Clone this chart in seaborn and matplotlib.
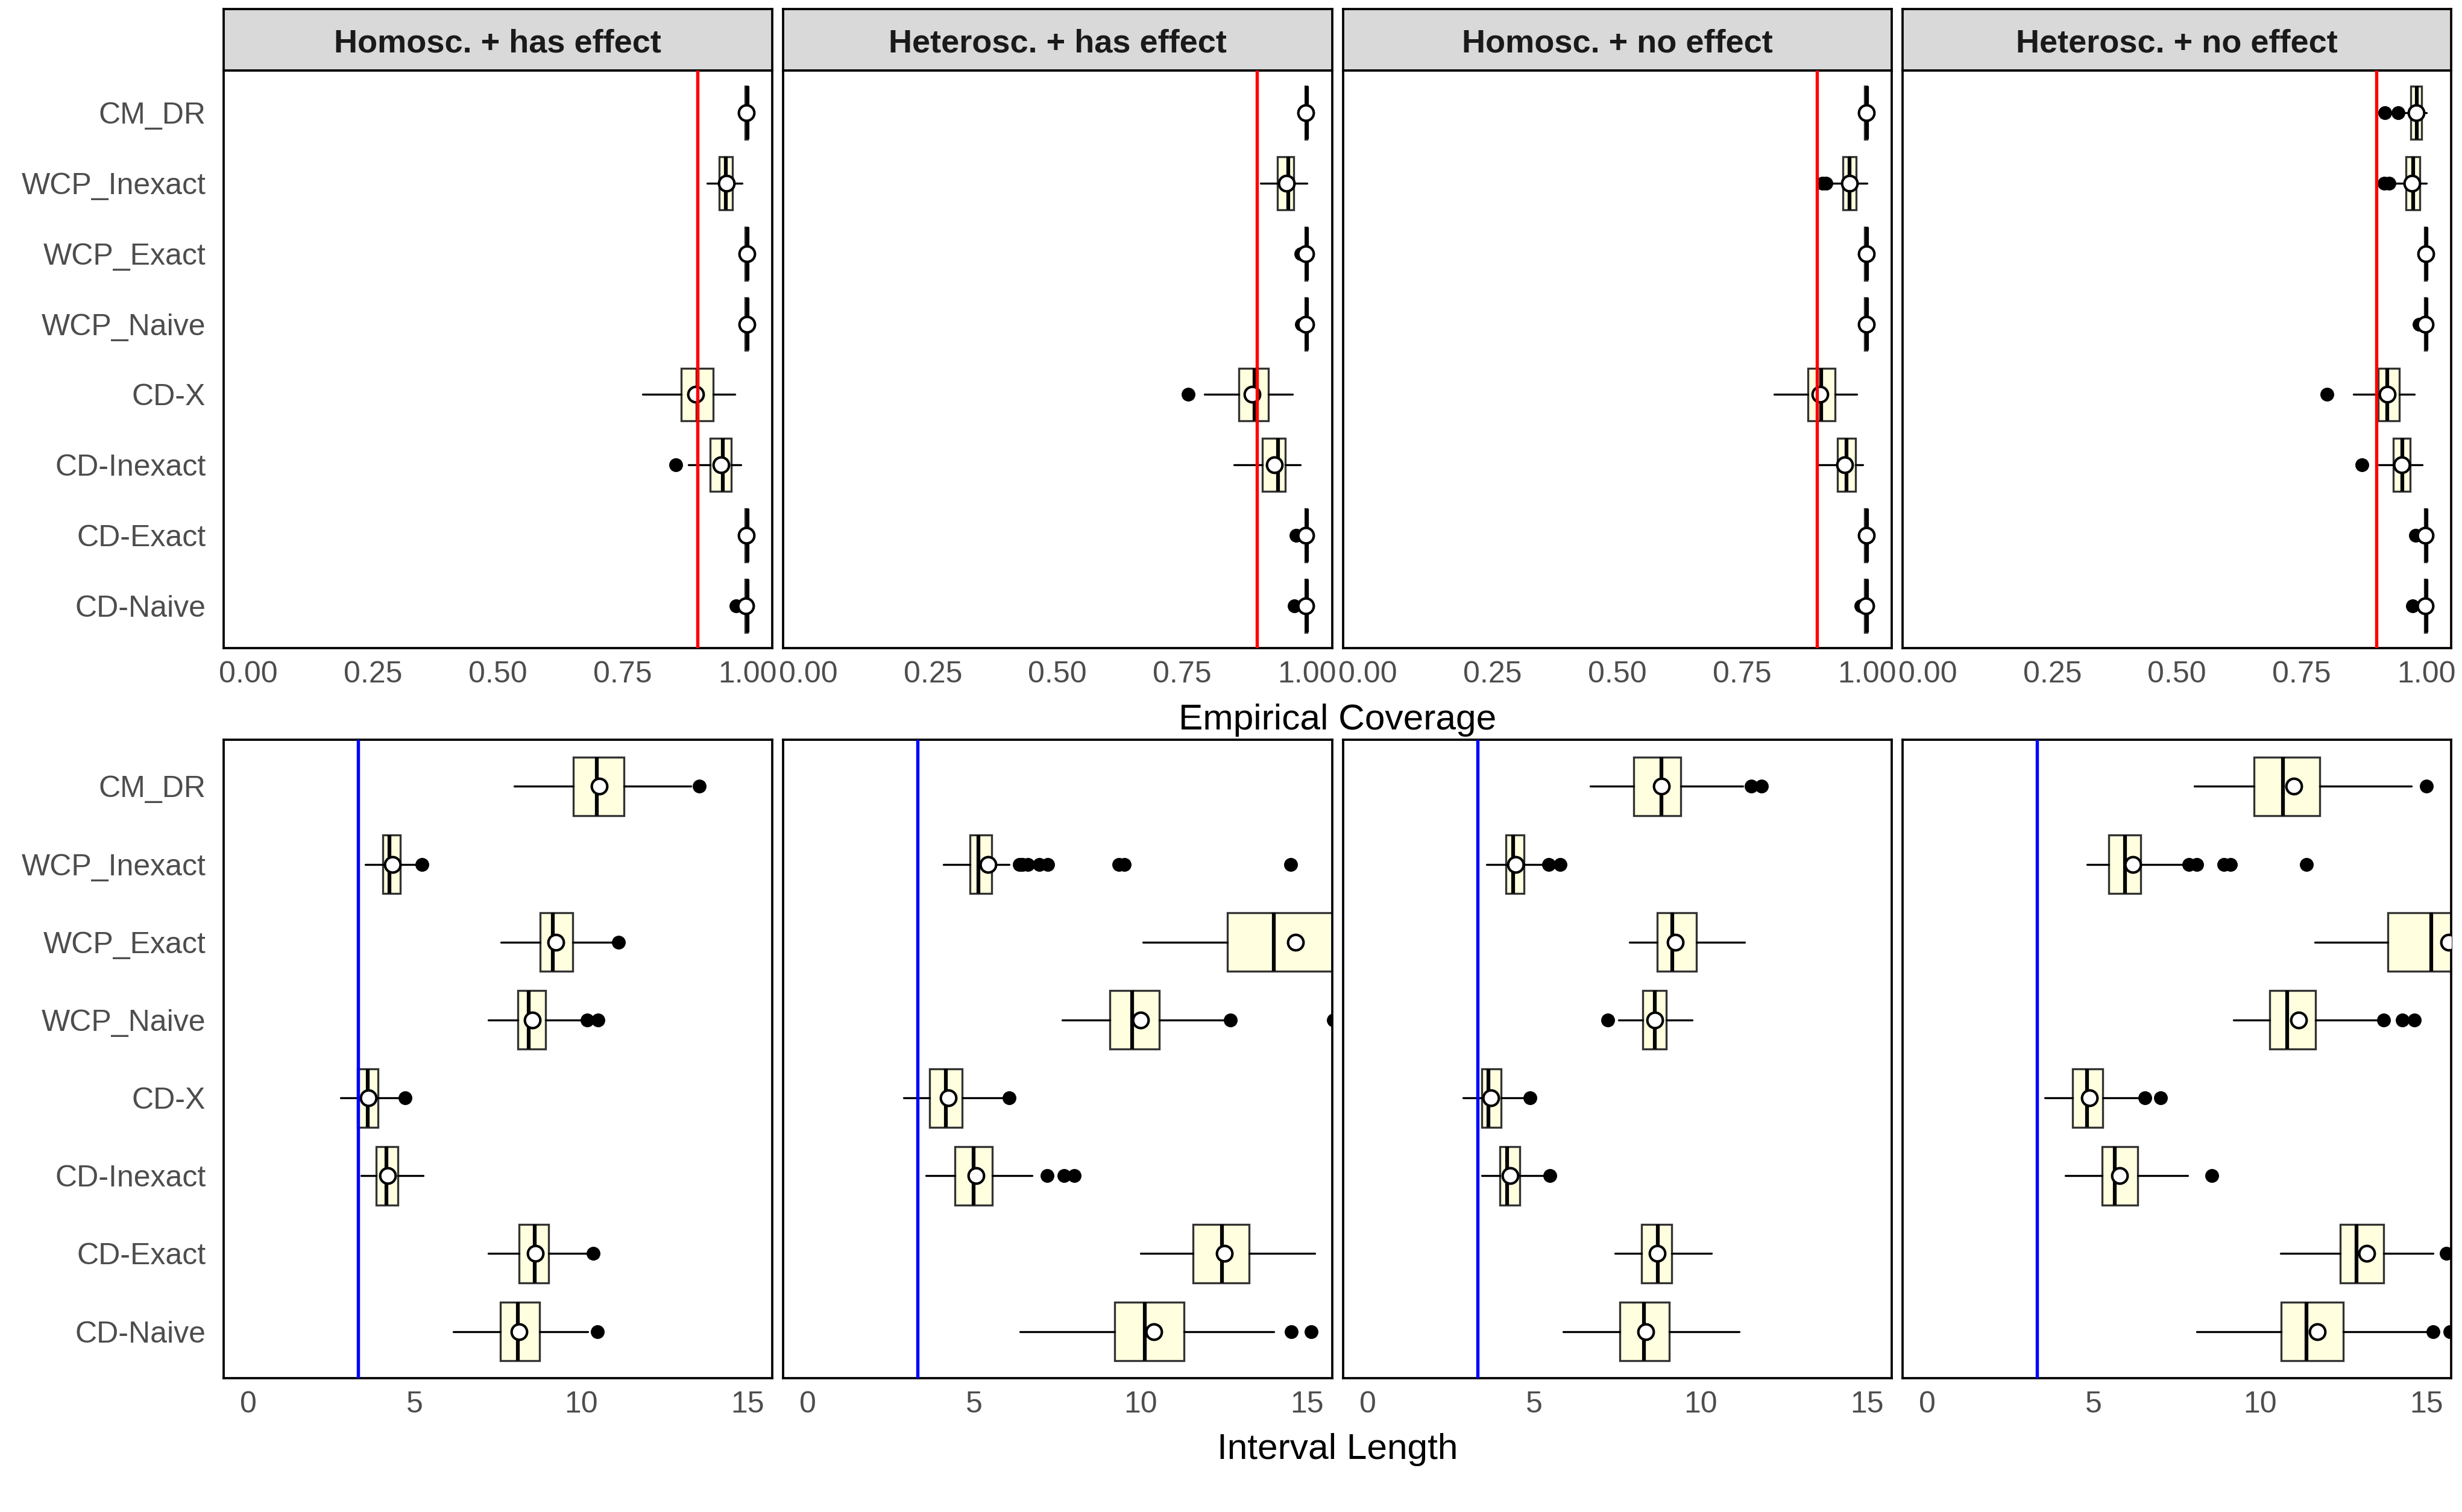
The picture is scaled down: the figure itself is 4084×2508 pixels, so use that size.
import numpy as np
import matplotlib
matplotlib.use("Agg")
import matplotlib.pyplot as plt
import seaborn as sns

# facets and methods (top to bottom)
settings = ["Homosc. + has effect", "Heterosc. + has effect",
            "Homosc. + no effect", "Heterosc. + no effect"]
methods = ["CM_DR", "WCP_Inexact", "WCP_Exact", "WCP_Naive",
           "CD-X", "CD-Inexact", "CD-Exact", "CD-Naive"]

target_coverage = 0.9
oracle_length = 3.3

# empirical coverage: box stats per setting, in method order
cov_lo = [[.996, .919, .996, .996, .790, .882, .996, .996],
          [.996, .9065, .996, .996, .795, .854, .996, .996],
          [.996, .927, .996, .996, .815, .902, .996, .996],
          [.957, .937, .996, .996, .854, .904, .996, .996]]
cov_q1 = [[.996, .944, .996, .996, .867, .926, .996, .996],
          [.996, .9407, .996, .996, .863, .9105, .996, .996],
          [.996, .952, .996, .996, .882, .941, .996, .996],
          [.969, .959, .996, .996, .903, .934, .996, .996]]
cov_med = [[1.0, .957, 1.0, 1.0, .900, .951, 1.0, 1.0],
           [1.0, .963, 1.0, 1.0, .895, .942, 1.0, 1.0],
           [1.0, .965, 1.0, 1.0, .909, .959, 1.0, 1.0],
           [.980, .973, 1.0, 1.0, .9215, .952, 1.0, 1.0]]
cov_q3 = [[1.0, .970, 1.0, 1.0, .932, .968, 1.0, 1.0],
          [1.0, .973, 1.0, 1.0, .923, .956, 1.0, 1.0],
          [1.0, .979, 1.0, 1.0, .936, .977, 1.0, 1.0],
          [.990, .987, 1.0, 1.0, .945, .967, 1.0, 1.0]]
cov_hi = [[1.0, .990, 1.0, 1.0, .975, .987, 1.0, 1.0],
          [1.0, 1.0, 1.0, 1.0, .971, .987, 1.0, 1.0],
          [1.0, 1.0, 1.0, 1.0, .980, .992, 1.0, 1.0],
          [1.0, 1.0, 1.0, 1.0, .976, .991, 1.0, 1.0]]
cov_mean = [[.998, .958, .999, .999, .896, .947, .998, .997],
            [.998, .959, .998, .998, .890, .935, .997, .997],
            [.999, .965, .999, .999, .906, .956, .999, .998],
            [.9795, .9706, .999, .998, .921, .950, .998, .997]]
cov_out = [[[], [], [], [], [], [.857], [], [.977]],
           [[], [], [.988], [.989], [.762], [], [.978], [.974]],
           [[], [.9105, .9185], [], [], [], [], [], [.988]],
           [[.917, .943], [.915, .925], [], [.985], [.80], [.871], [.9785], [.972]]]

# interval length: box stats per setting, in method order
len_lo = [[7.99, 3.52, 7.59, 7.21, 2.77, 3.39, 7.21, 6.16],
          [np.nan, 4.07, 10.07, 7.64, 2.88, 3.54, 10.0, 6.38],
          [6.69, 3.57, 7.86, 7.54, 2.86, 3.42, 7.43, 5.88],
          [8.03, 4.79, 11.64, 9.2, 3.53, 4.14, 10.61, 8.09]]
len_q1 = [[9.77, 4.05, 8.78, 8.10, 3.29, 3.84, 8.13, 7.58],
          [np.nan, 4.87, 12.6, 9.08, 3.65, 4.42, 11.58, 9.21],
          [7.99, 4.16, 8.70, 8.26, 3.42, 3.97, 8.23, 7.58],
          [9.82, 5.44, 13.84, 10.28, 4.36, 5.24, 12.41, 10.63]]
len_med = [[10.47, 4.25, 9.16, 8.43, 3.59, 4.16, 8.61, 8.10],
           [np.nan, 5.12, 14.0, 9.75, 4.14, 4.98, 12.44, 10.12],
           [8.82, 4.37, 9.15, 8.62, 3.62, 4.19, 8.72, 8.31],
           [10.68, 5.93, 15.15, 10.82, 4.80, 5.62, 12.9, 11.39]]
len_q3 = [[11.30, 4.56, 9.75, 8.93, 3.89, 4.50, 9.03, 8.75],
          [np.nan, 5.52, 16.6, 10.55, 4.63, 5.53, 13.26, 11.30],
          [9.41, 4.69, 9.87, 8.98, 4.01, 4.57, 9.14, 9.06],
          [11.79, 6.41, 16.6, 11.66, 5.26, 6.31, 13.71, 12.49]]
len_hi = [[13.3, 5.10, 11.0, 10.1, 4.6, 5.26, 10.26, 10.21],
          [np.nan, 6.04, 19.0, 12.54, 5.94, 6.74, 15.24, 14.01],
          [11.28, 5.28, 11.32, 9.76, 4.75, 5.33, 10.33, 11.17],
          [14.55, 7.82, 19.5, 13.6, 6.41, 7.82, 15.2, 15.0]]
len_mean = [[10.55, 4.34, 9.24, 8.54, 3.60, 4.19, 8.62, 8.13],
            [np.nan, 5.42, 14.66, 9.99, 4.22, 5.05, 12.52, 10.40],
            [8.82, 4.44, 9.24, 8.62, 3.69, 4.27, 8.70, 8.35],
            [11.02, 6.17, 15.66, 11.15, 4.87, 5.78, 13.21, 11.71]]
len_out = [[[13.56], [5.23], [11.12], [10.18, 10.51], [4.72], [], [10.36], [10.50]],
           [[], [6.35, 6.45, 6.6, 6.95, 7.2, 9.35, 9.5, 14.5], [], [12.69, 15.8],
            [6.05], [7.18, 7.69, 8.01], [], [14.53, 15.12]],
           [[11.53, 11.83], [5.44, 5.78], [], [7.21], [4.88], [5.48], [], []],
           [[15.0], [7.85, 8.1, 8.9, 9.1, 11.4], [], [13.71, 14.28, 14.63],
            [6.54, 7.0], [8.54], [15.6], [15.2, 15.7]]]

cov_ticks = [0.0, 0.25, 0.5, 0.75, 1.0]
cov_ticklabels = ["0.00", "0.25", "0.50", "0.75", "1.00"]
len_ticks = [0, 5, 10, 15]
len_ticklabels = ["0", "5", "10", "15"]

sns.set_theme(style="white")
plt.rcParams["font.family"] = ["Liberation Sans", "DejaVu Sans"]

W, H = 4084, 2508
fig = plt.figure(figsize=(W / 300, H / 300), dpi=300)

col_left = [370.5, 1299, 2227.5, 3156]
panel_w = 910.5
strip_rows = (15, 117)
top_rows = (117, 1075)
bot_rows = (1227, 2286)


def px_axes(x0, y0, x1, y1):
    return fig.add_axes([x0 / W, 1 - y1 / H, (x1 - x0) / W, (y1 - y0) / H])


def draw_panel(ax, lo, q1, med, q3, hi, mean, out, ref, ref_color,
               xlim, ticks, ticklabels, show_y):
    keep = [i for i in range(len(methods)) if not np.isnan(med[i])]
    stats = [dict(whislo=lo[i], q1=q1[i], med=med[i], q3=q3[i], whishi=hi[i],
                  fliers=np.asarray(out[i]), label=methods[i]) for i in keep]
    ax.bxp(stats, positions=keep, widths=0.75, orientation="horizontal",
           patch_artist=True, showcaps=False, manage_ticks=False,
           boxprops=dict(facecolor="lightyellow", edgecolor="#333333", linewidth=0.8),
           medianprops=dict(color="black", linewidth=1.5),
           whiskerprops=dict(color="black", linewidth=0.8),
           flierprops=dict(marker="o", markerfacecolor="black",
                           markeredgecolor="black", markersize=4.5))
    sns.scatterplot(x=[mean[i] for i in keep], y=keep, ax=ax, color="white",
                    edgecolor="black", linewidth=1.0, s=38, zorder=4)
    ax.axvline(ref, color=ref_color, linewidth=1.3, zorder=5)

    ax.set_xlim(*xlim)
    ax.set_ylim(len(methods) - 0.4, -0.6)
    ax.set_xticks(ticks)
    ax.set_xticklabels(ticklabels)
    ax.set_yticks(range(len(methods)))
    ax.set_yticklabels(methods if show_y else [])
    ax.set_xlabel("")
    ax.set_ylabel("")
    ax.tick_params(length=0, labelsize=12, labelcolor="#4D4D4D")
    ax.tick_params(axis="x", pad=5)
    ax.tick_params(axis="y", pad=7)
    ax.grid(False)
    for sp in ax.spines.values():
        sp.set_visible(True)
        sp.set_color("black")
        sp.set_linewidth(0.9)


for j, name in enumerate(settings):
    x0 = col_left[j]
    x1 = x0 + panel_w

    strip = px_axes(x0, strip_rows[0], x1, strip_rows[1])
    strip.set_facecolor("#D9D9D9")
    strip.set_xticks([])
    strip.set_yticks([])
    for sp in strip.spines.values():
        sp.set_visible(True)
        sp.set_color("black")
        sp.set_linewidth(0.9)
    strip.text(0.5, 0.44, name, ha="center", va="center", fontsize=13,
               fontweight="bold", color="#1A1A1A", transform=strip.transAxes)

    ax_top = px_axes(x0, top_rows[0], x1, top_rows[1])
    draw_panel(ax_top, cov_lo[j], cov_q1[j], cov_med[j], cov_q3[j], cov_hi[j],
               cov_mean[j], cov_out[j], target_coverage, "#FF0000",
               (-0.05, 1.05), cov_ticks, cov_ticklabels, j == 0)

    ax_bot = px_axes(x0, bot_rows[0], x1, bot_rows[1])
    draw_panel(ax_bot, len_lo[j], len_q1[j], len_med[j], len_q3[j], len_hi[j],
               len_mean[j], len_out[j], oracle_length, "#0000FF",
               (-0.75, 15.75), len_ticks, len_ticklabels, j == 0)

mid_x = (col_left[0] + col_left[-1] + panel_w) / 2 / W
fig.text(mid_x, 1 - 1195 / H, "Empirical Coverage", ha="center", va="center",
         fontsize=14.5, color="black")
fig.text(mid_x, 1 - 2404 / H, "Interval Length", ha="center", va="center",
         fontsize=14.5, color="black")

fig.savefig("out.png", dpi=300, facecolor="white")
